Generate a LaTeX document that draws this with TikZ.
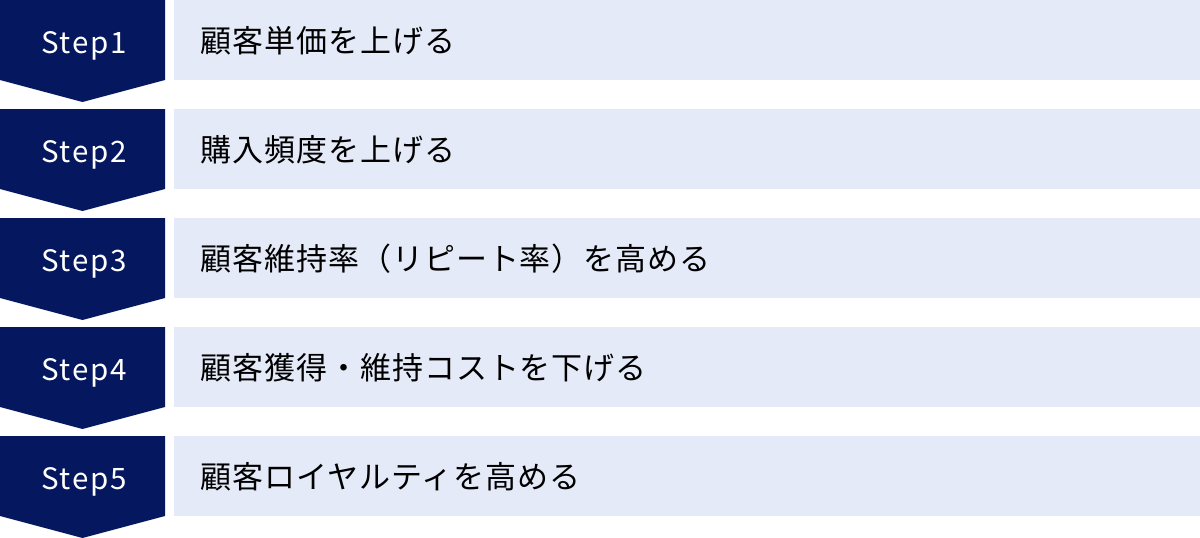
\documentclass[tikz,border=0pt]{standalone}
\usepackage{fontspec}
\setmainfont{Noto Sans CJK JP}
\newfontfamily\jpfont{Noto Sans CJK JP}[LetterSpace=3]
\newfontfamily\stepfont{Noto Sans CJK JP}[LetterSpace=6]
\definecolor{navy}{HTML}{04175F}
\definecolor{lightbg}{HTML}{E5EAF8}
\tikzset{
  chev/.style={fill=navy},
  itembox/.style={fill=lightbg},
  steplabel/.style={text=white, anchor=base, inner sep=0pt, font=\stepfont\fontsize{29.5}{34}\selectfont},
  itemlabel/.style={text=black, anchor=base west, inner sep=0pt, font=\jpfont\fontsize{31}{36}\selectfont}
}
\begin{document}
\begin{tikzpicture}[x=1pt,y=-1pt]
\useasboundingbox (0,0) rectangle (1200,538);
\foreach \i/\t in {1/顧客単価を上げる, 2/購入頻度を上げる, 3/{顧客維持率（リピート率）を高める}, 4/顧客獲得・維持コストを下げる, 5/顧客ロイヤルティを高める}{
  \pgfmathsetmacro\yy{109*(\i-1)}
  \fill[chev] (0,\yy) -- (165,\yy) -- (165,\yy+80) -- (82.5,\yy+102) -- (0,\yy+80) -- cycle;
  \fill[itembox] (174,\yy) rectangle (1200,\yy+80);
  \node[steplabel] (s\i) at (84,\yy+53) {Step\i};
  \node[itemlabel] (t\i) at (200.5,\yy+52) {\t};
}
\end{tikzpicture}
\end{document}
